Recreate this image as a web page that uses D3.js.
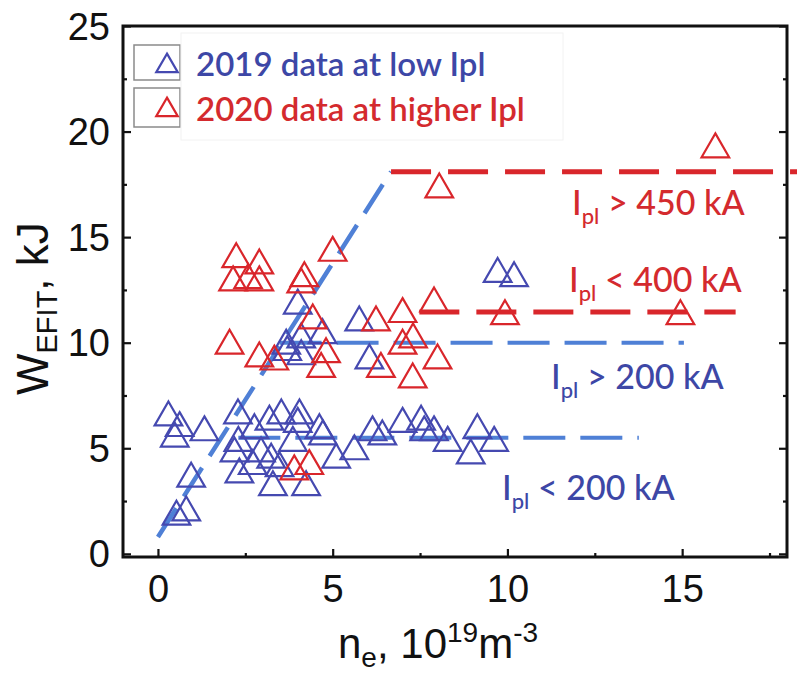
<!DOCTYPE html>
<html>
<head>
<meta charset="utf-8">
<script src="https://cdn.jsdelivr.net/npm/d3@7"></script>
<style>
  html, body { margin: 0; padding: 0; background: #fff; }
  svg { display: block; }
</style>
</head>
<body>
<div id="chart"></div>
<script>
// W_EFIT vs density, 2019 / 2020 campaigns
const xTicks = [0, 5, 10, 15];
const xMinor = [2.5, 7.5, 12.5, 17.5];
const yTicks = [0, 5, 10, 15, 20, 25];
const yMinor = [2.5, 7.5, 12.5, 17.5, 22.5];

// 2019 data at low Ipl  [n_e, W]
const data2019 = [
  [0.3, 6.6], [0.62, 6.1], [0.48, 5.6], [1.33, 5.9], [2.29, 6.7], [2.19, 4.9],
  [2.33, 3.9], [0.95, 3.7], [0.81, 2.1], [0.53, 1.9], [2.76, 6.0], [3.19, 6.4],
  [3.53, 6.7], [4.05, 6.7], [4.0, 6.3], [4.62, 6.0], [4.72, 5.7], [2.95, 4.9],
  [3.24, 4.6], [2.71, 4.3], [3.48, 4.2], [3.29, 3.3], [4.24, 3.3], [5.1, 4.6],
  [5.62, 5.0], [6.14, 5.9], [7.0, 6.3], [7.53, 6.4], [7.62, 5.9], [7.9, 5.9],
  [8.29, 5.4], [9.14, 6.0], [9.62, 5.4], [8.95, 4.8], [6.42, 5.7], [2.3, 5.4],
  [3.86, 5.4], [4.0, 11.9], [5.76, 11.1], [4.71, 10.5], [3.67, 10.0], [4.1, 10.3],
  [4.1, 9.5], [6.05, 9.3], [3.7, 9.7], [9.72, 13.4], [10.19, 13.2]
];

// 2020 data at higher Ipl  [n_e, W]
const data2020 = [
  [15.95, 19.3], [8.05, 17.4], [7.9, 12.0], [9.93, 11.4], [14.95, 11.4], [7.0, 11.5],
  [8.0, 9.3], [2.24, 14.1], [2.9, 13.8], [2.15, 13.0], [2.58, 13.1], [2.9, 13.0],
  [4.19, 13.2], [4.1, 12.9], [5.0, 14.4], [4.43, 11.2], [2.05, 10.0], [2.9, 9.4],
  [3.33, 9.25], [4.81, 9.6], [4.67, 8.9], [6.24, 11.1], [7.0, 10.0], [7.3, 10.3],
  [6.38, 8.9], [7.29, 8.4], [3.9, 4.05], [4.33, 4.3]
];

// dashed guide lines
const lineRise = [[0, 0.8], [6.67, 18.1]];
const line450 = [[6.67, 18.1], [18.4, 18.1]];
const line400 = [[7.48, 11.45], [16.53, 11.45]];
const line200hi = [[3.48, 10.0], [15.05, 10.0]];
const line200lo = [[2.3, 5.5], [13.76, 5.5]];

const labels = [
  { text: 'I', sub: 'pl', rest: ' > 450 kA', x: 572, y: 215, color: '#d42a2e' },
  { text: 'I', sub: 'pl', rest: ' < 400 kA', x: 569, y: 292, color: '#d42a2e' },
  { text: 'I', sub: 'pl', rest: ' > 200 kA', x: 551, y: 389, color: '#3d47a6' },
  { text: 'I', sub: 'pl', rest: ' < 200 kA', x: 502, y: 500, color: '#3d47a6' }
];

const W = 801, H = 675;
const plot = { left: 123, right: 787, top: 26, bottom: 557 };
const BLUE = '#4549b0', RED = '#d9262b', LINE_BLUE = '#4f80d6';
const AXIS_FONT = '"Liberation Sans", Arial, sans-serif';
const NOTE_FONT = 'Lato, "Open Sans", sans-serif';

const svg = d3.select('#chart').append('svg')
  .attr('width', W).attr('height', H);

const x = d3.scaleLinear().domain([-1, 18]).range([plot.left, plot.right]);
const y = d3.scaleLinear().domain([-0.15, 25]).range([plot.bottom, plot.top]);

const clip = svg.append('defs').append('clipPath').attr('id', 'plot-clip');
clip.append('rect')
  .attr('x', plot.left).attr('y', plot.top - 30)
  .attr('width', plot.right - plot.left + 10)
  .attr('height', plot.bottom - plot.top + 30);

// Axes (ticks inside)
function drawAxis(axis, tx, ty, labelsOn) {
  const g = svg.append('g').attr('transform', `translate(${tx},${ty})`).call(axis);
  g.select('.domain').remove();
  g.selectAll('line').attr('stroke', '#111').attr('stroke-width', 2.2);
  if (!labelsOn) g.selectAll('text').remove();
  return g;
}

const xAx = drawAxis(d3.axisBottom(x).tickValues(xTicks).tickSize(-8).tickPadding(18).tickFormat(d3.format('d')),
  0, plot.bottom, true);
xAx.selectAll('text')
  .attr('font-family', AXIS_FONT).attr('font-size', 38).attr('fill', '#111')
  .attr('y', 45).attr('dy', 0);
drawAxis(d3.axisBottom(x).tickValues(xMinor).tickSize(-4).tickFormat(''), 0, plot.bottom, false);

const yAx = drawAxis(d3.axisLeft(y).tickValues(yTicks).tickSize(-8).tickFormat(d3.format('d')),
  plot.left, 0, true);
yAx.selectAll('text')
  .attr('font-family', AXIS_FONT).attr('font-size', 38).attr('fill', '#111')
  .attr('x', -13).attr('dy', 13);
drawAxis(d3.axisLeft(y).tickValues(yMinor).tickSize(-4).tickFormat(''), plot.left, 0, false);
drawAxis(d3.axisRight(y).tickValues(yTicks).tickSize(-8).tickFormat(''), plot.right, 0, false);
drawAxis(d3.axisRight(y).tickValues(yMinor).tickSize(-4).tickFormat(''), plot.right, 0, false);

// Axis titles
const xt = svg.append('text')
  .attr('x', 338).attr('y', 658)
  .attr('font-family', AXIS_FONT).attr('font-size', 42).attr('fill', '#111');
xt.append('tspan').text('n');
xt.append('tspan').attr('font-size', 28).attr('dy', 9).text('e');
xt.append('tspan').attr('dy', -9).text(', 10');
xt.append('tspan').attr('font-size', 28).attr('dy', -16).text('19');
xt.append('tspan').attr('dy', 16).text('m');
xt.append('tspan').attr('font-size', 28).attr('dy', -16).text('-3');

const yt = svg.append('text')
  .attr('transform', 'translate(48,395) rotate(-90)')
  .attr('font-family', AXIS_FONT).attr('font-size', 44).attr('fill', '#111');
yt.append('tspan').text('W');
yt.append('tspan').attr('font-size', 29).attr('dy', 9).text('EFIT');
yt.append('tspan').attr('dy', -9).text(', kJ');

// Dashed lines
const line = d3.line().x(d => x(d[0])).y(d => y(d[1]));
const lines = svg.append('g').attr('clip-path', 'url(#plot-clip)');
lines.append('path').attr('d', line(line200lo)).attr('fill', 'none')
  .attr('stroke', LINE_BLUE).attr('stroke-width', 4).attr('stroke-dasharray', '42,15');
lines.append('path').attr('d', line(line200hi)).attr('fill', 'none')
  .attr('stroke', LINE_BLUE).attr('stroke-width', 4).attr('stroke-dasharray', '42,15');

// Triangles
const tri = d3.symbol().type(d3.symbolTriangle).size(330);
function drawPoints(data, color) {
  svg.append('g').selectAll('path').data(data).join('path')
    .attr('d', tri)
    .attr('transform', d => `translate(${x(d[0])},${y(d[1]) + 3})`)
    .attr('fill', 'none')
    .attr('stroke', color)
    .attr('stroke-width', 2.2);
}
drawPoints(data2019, BLUE);
drawPoints(data2020, RED);

lines.append('path').attr('d', line(lineRise)).attr('fill', 'none')
  .attr('stroke', LINE_BLUE).attr('stroke-width', 4.5).attr('stroke-dasharray', '34,14');
lines.append('path').attr('d', line(line400)).attr('fill', 'none')
  .attr('stroke', RED).attr('stroke-width', 5).attr('stroke-dasharray', '40,17');
lines.append('path').attr('d', line(line450)).attr('fill', 'none')
  .attr('stroke', RED).attr('stroke-width', 5).attr('stroke-dasharray', '40,17');

// Annotations
labels.forEach(l => {
  const t = svg.append('text')
    .attr('x', l.x).attr('y', l.y)
    .attr('font-family', NOTE_FONT).attr('font-size', 34).attr('font-weight', 500)
    .attr('fill', l.color);
  t.append('tspan').text(l.text);
  t.append('tspan').attr('font-size', 22).attr('dy', 9).text(l.sub);
  t.append('tspan').attr('dy', -9).text(l.rest);
});

// Legend
const legend = svg.append('g');
[[134, 45, 46, 35], [134, 88, 46, 39]].forEach(r => {
  legend.append('rect')
    .attr('x', r[0]).attr('y', r[1]).attr('width', r[2]).attr('height', r[3])
    .attr('fill', 'none').attr('stroke', '#8a8a8a').attr('stroke-width', 1.5);
});
const legTri = d3.symbol().type(d3.symbolTriangle).size(200);
[[167, 66, BLUE], [167, 110, RED]].forEach(p => {
  legend.append('path').attr('d', legTri)
    .attr('transform', `translate(${p[0]},${p[1]})`)
    .attr('fill', 'none').attr('stroke', p[2]).attr('stroke-width', 2.2);
});
legend.append('rect')
  .attr('x', 181).attr('y', 33).attr('width', 382).attr('height', 107)
  .attr('fill', '#fff').attr('stroke', '#f2f2f2');
legend.append('text')
  .attr('x', 196).attr('y', 76)
  .attr('font-family', NOTE_FONT).attr('font-size', 33).attr('font-weight', 600)
  .attr('fill', '#3d47a6').text('2019 data at low Ipl');
legend.append('text')
  .attr('x', 196).attr('y', 121)
  .attr('font-family', NOTE_FONT).attr('font-size', 33).attr('font-weight', 600)
  .attr('fill', '#d42a2e').text('2020 data at higher Ipl');

// Frame
svg.append('rect')
  .attr('x', plot.left).attr('y', plot.top)
  .attr('width', plot.right - plot.left).attr('height', plot.bottom - plot.top)
  .attr('fill', 'none').attr('stroke', '#111').attr('stroke-width', 3);
</script>
</body>
</html>
